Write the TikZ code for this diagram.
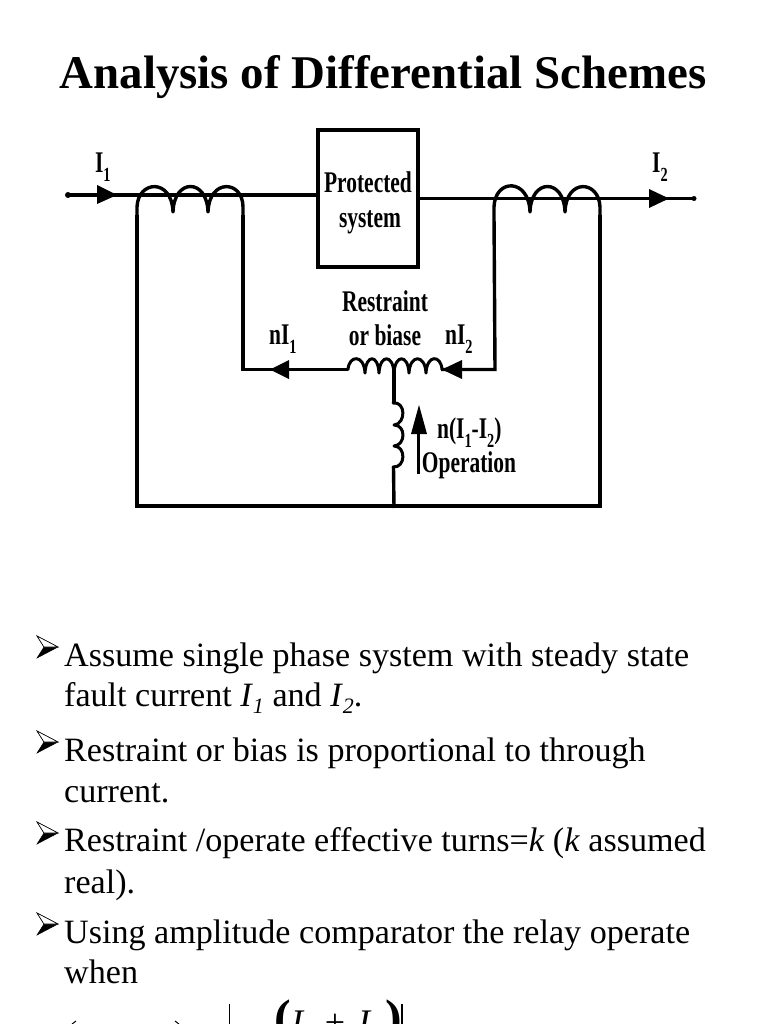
\documentclass[tikz,border=0pt]{standalone}
\usepackage{fontspec}
\setmainfont{Liberation Serif}
\usetikzlibrary{arrows.meta}
\tikzset{
 x=1pt,y=-1pt,
 wire/.style={line width=3.4pt,line join=miter},
 coil/.style={line width=3pt,line join=round,line cap=round},
 tip/.style={fill=black,draw=none},
 lab/.style={font=\bfseries\fontsize{30}{30}\selectfont,inner sep=0pt,xscale=0.715,anchor=base},
 body/.style={font=\fontsize{34.1}{40}\selectfont,anchor=base west,inner sep=0pt},
 eq/.style={inner sep=0pt,anchor=base}
}
\newcommand{\lsub}[1]{\raisebox{-0.3em}{\fontsize{20}{20}\selectfont #1}}
\newcommand{\isub}[1]{\raisebox{-0.22em}{\fontsize{22}{22}\selectfont\itshape #1}}
\newcommand{\bul}[2]{\path[fill=black,draw=black,line width=0.5pt] (#1+0,#2+0) -- (#1+21,#2+11) -- (#1+0,#2+22) -- (#1+7,#2+11) -- cycle;
 \path[fill=white,draw=black,line width=0.6pt] (#1+0,#2+0) -- (#1+21,#2+11) -- (#1+7,#2+11) -- cycle;}
\begin{document}
\begin{tikzpicture}
\useasboundingbox (0,0) rectangle (768,1024);
\clip (0,0) rectangle (768,1024);
\node[inner sep=0pt,font=\bfseries\fontsize{46.9}{50}\selectfont,anchor=base] (title) at (383,89) {Analysis of Differential Schemes};
% box
\node[draw,line width=3.4pt,minimum width=100pt,minimum height=137pt,inner sep=0pt] (box) at (368,198.5) {};
\node[lab] (t1) at (368,193) {Protected};
\node[lab] (t2) at (370,228) {system};
% terminals
\coordinate (L) at (68,195);
\coordinate (R) at (694,198.5);
\coordinate (LA) at (137,215);
\coordinate (LB) at (243,215);
\coordinate (RA) at (494,215);
\coordinate (RB) at (600,215);
\coordinate (BL) at (137,506);
\coordinate (BR) at (600,506);
\coordinate (ML) at (243,369.5);
\coordinate (MR) at (495,369.5);
\coordinate (TAP) at (394,369.5);
\coordinate (BT) at (394,508);
\draw[wire] (L) -- (box.west |- L);
\draw[wire] (box.east |- R) -- (R);
\fill (L) circle (3pt); \fill (R) circle (2.5pt);
% primary coils
\draw[wire,line join=round] (LA) -- (137,207) .. controls (138,180) and (172,178) .. (173,212)
 .. controls (174,178) and (207,178) .. (208,212) .. controls (209,178) and (243,180) .. (243,207) -- (LB);
\draw[wire,line join=round] (RA) -- (494,207) .. controls (495,178) and (529,178) .. (530,212)
 .. controls (531,178) and (564,178) .. (565,212) .. controls (566,178) and (599,180) .. (600,207) -- (RB);
% loops
\draw[wire] (LA) -- (BL) -- (BR) -- (RB);
\draw[wire] (LB) -- (ML) -- (348,369.5);
\draw[wire] (RA) -- (MR) -- (441,369.5);
% restraint coil
\draw[coil] (348,369.5) .. controls (349,355) and (364,354) .. (365,373)
 .. controls (366,354) and (378,354) .. (379,373) .. controls (380,354) and (393,354) .. (394,373)
 .. controls (395,354) and (408,354) .. (409,373) .. controls (410,354) and (425,354) .. (426,373)
 .. controls (427,354) and (441,355) .. (442,369.5);
% operating coil
\draw[wire] (TAP) -- (394,403);
\draw[coil] (393,403) .. controls (406,401) and (406,424) .. (394,425)
 .. controls (406,425) and (406,445) .. (394,446) .. controls (406,446) and (406,468) .. (393,467);
\draw[wire] (393.5,467) -- (BT);
% arrowheads
\fill[tip] (97,185) -- (117,195) -- (97,204) -- cycle;
\fill[tip] (649,189) -- (669,198.5) -- (649,208) -- cycle;
\fill[tip] (289,360) -- (270,369.5) -- (289,379) -- cycle;
\fill[tip] (462,360) -- (442,369.5) -- (462,379) -- cycle;
\draw[line width=3pt] (418.5,474) -- (418.5,430);
\fill[tip] (411,434) -- (419,405) -- (427,434) -- cycle;
% labels
\node[lab,anchor=base west] (i1) at (95,173) {I\lsub{1}};
\node[lab,anchor=base west] (i2) at (652,173) {I\lsub{2}};
\node[lab,anchor=base west] (ni1) at (269,344) {nI\lsub{1}};
\node[lab,anchor=base west] (ni2) at (445,344) {nI\lsub{2}};
\node[lab] (r1) at (385,311) {Restraint};
\node[lab] (r2) at (385,345) {or biase};
\node[lab,anchor=base west] (op) at (437,438) {n(I\lsub{1}-I\lsub{2})};
\node[lab] (op2) at (469,472) {Operation};
% bullets
\bul{37}{636} \bul{37}{731} \bul{37}{822} \bul{37}{913}
\node[body] at (64,666) {Assume single phase system with steady state};
\node[body] at (64,706) {fault current \textit{I}\isub{1} and \textit{I}\isub{2}.};
\node[body] at (64,761) {Restraint or bias is proportional to through};
\node[body] at (64,802) {current.};
\node[body] at (64,851) {Restraint /operate effective turns=\textit{k} (\textit{k} assumed};
\node[body] at (64,893) {real).};
\node[body] at (64,943) {Using amplitude comparator the relay operate};
\node[body] at (64,983) {when};
% equation cut off by the page edge
\draw[line width=0.8pt] (229,1004) -- (229,1024);
\draw[line width=1pt] (76,1021) -- (72,1024);
\draw[line width=1pt] (175,1021) -- (179,1024);
\node[eq,font=\bfseries\fontsize{50}{50}\selectfont] at (283,1034) {(};
\node[eq,font=\fontsize{36}{36}\selectfont\itshape] at (297,1034) {I};
\node[eq,font=\fontsize{36}{36}\selectfont] at (335,1034) {+};
\node[eq,font=\fontsize{36}{36}\selectfont\itshape] at (364,1034) {I};
\node[eq,font=\bfseries\fontsize{50}{50}\selectfont] at (394,1034) {)};
\draw[line width=1.2pt] (402,1004) -- (402,1024);
\end{tikzpicture}
\end{document}
